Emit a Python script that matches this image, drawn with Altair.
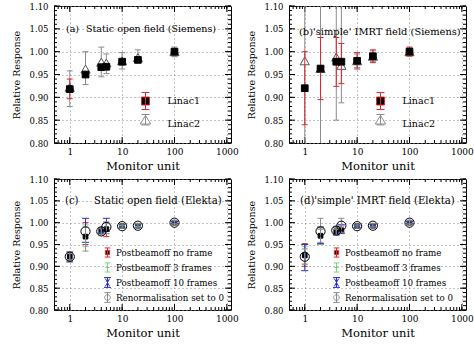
import altair as alt
import pandas as pd

MU = [1, 2, 4, 5, 10, 20, 100]

# ---- panel (a) Static open field (Siemens)
A_L1_Y = [0.918, 0.950, 0.966, 0.967, 0.978, 0.982, 1.000]
A_L1_LO = [0.897, 0.946, 0.962, 0.963, 0.975, 0.979, 0.997]
A_L1_HI = [0.940, 0.954, 0.970, 0.971, 0.981, 0.985, 1.003]
A_L2_Y = [0.922, 0.962, 0.977, 0.975, 0.980, 0.987, 1.000]
A_L2_LO = [0.880, 0.928, 0.945, 0.952, 0.962, 0.978, 0.989]
A_L2_HI = [0.958, 1.000, 1.010, 0.995, 0.998, 1.004, 1.010]

# ---- panel (b) 'simple' IMRT field (Siemens)
B_L1_Y = [0.920, 0.963, 0.978, 0.978, 0.980, 0.990, 1.000]
B_L1_LO = [0.840, 0.895, 0.924, 0.930, 0.962, 0.976, 0.990]
B_L1_HI = [1.000, 1.031, 1.031, 1.018, 0.998, 1.004, 1.010]
B_L2_Y = [0.980, 0.963, 0.988, 0.970, 0.980, 0.990, 1.000]
B_L2_LO = [0.700, 0.700, 0.850, 0.888, 0.965, 0.978, 0.992]
B_L2_HI = [1.250, 1.250, 1.150, 1.150, 0.995, 1.002, 1.008]

# ---- panel (c) Static open field (Elekta)
C_NF_Y = [0.922, 0.968, 0.980, 0.985, 0.992, 0.993, 1.000]
C_NF_LO = [0.913, 0.950, 0.975, 0.968, 0.990, 0.991, 0.998]
C_NF_HI = [0.930, 1.000, 0.985, 1.000, 0.994, 0.995, 1.002]
C_3F_Y = [0.922, 0.975, 0.981, 0.988, 0.992, 0.993, 1.000]
C_3F_LO = [0.914, 0.945, 0.976, 0.975, 0.990, 0.991, 0.998]
C_3F_HI = [0.930, 0.995, 0.986, 1.000, 0.994, 0.995, 1.002]
C_10F_Y = [0.922, 0.985, 0.982, 0.995, 0.992, 0.993, 1.000]
C_10F_LO = [0.910, 0.955, 0.976, 0.980, 0.988, 0.989, 0.997]
C_10F_HI = [0.933, 1.010, 0.988, 1.010, 0.996, 0.997, 1.003]
C_RN_Y = [0.922, 0.980, 0.980, 0.990, 0.992, 0.993, 1.000]
C_RN_LO = [0.912, 0.935, 0.972, 0.975, 0.987, 0.988, 0.995]
C_RN_HI = [0.932, 0.990, 0.988, 1.002, 0.997, 0.998, 1.005]

# ---- panel (d) 'simple' IMRT field (Elekta)
D_NF_Y = [0.925, 0.970, 0.980, 0.982, 0.992, 0.993, 1.000]
D_NF_LO = [0.900, 0.950, 0.975, 0.975, 0.990, 0.991, 0.998]
D_NF_HI = [0.952, 0.985, 0.985, 0.990, 0.994, 0.995, 1.002]
D_3F_Y = [0.922, 0.968, 0.978, 0.985, 0.992, 0.993, 1.000]
D_3F_LO = [0.905, 0.950, 0.972, 0.975, 0.990, 0.991, 0.998]
D_3F_HI = [0.945, 0.985, 0.985, 0.995, 0.994, 0.995, 1.002]
D_10F_Y = [0.920, 0.970, 0.981, 0.985, 0.992, 0.993, 1.000]
D_10F_LO = [0.890, 0.952, 0.972, 0.976, 0.989, 0.990, 0.997]
D_10F_HI = [0.950, 0.990, 0.990, 0.995, 0.995, 0.996, 1.003]
D_RN_Y = [0.922, 0.980, 0.982, 0.993, 0.992, 0.993, 1.000]
D_RN_LO = [0.905, 0.955, 0.972, 0.978, 0.987, 0.988, 0.995]
D_RN_HI = [0.940, 1.010, 0.990, 1.010, 0.997, 0.998, 1.005]

X_LABELS = [1, 10, 100, 1000]
Y_LABELS = [0.80, 0.85, 0.90, 0.95, 1.00, 1.05, 1.10]
X_MINOR = [0.5, 0.6, 0.7, 0.8, 0.9] + [k * 10 ** e for e in (0, 1, 2) for k in range(1, 10)] + [1000]
Y_MINOR = [round(0.80 + 0.01 * i, 2) for i in range(31)]

SERIF = "DejaVu Serif"
W = 177
RED = "#e0262e"
GRAY = "#8c8c8c"
GREEN = "#7ed37e"
BLUE = "#2b2bcf"
CAP = "M-1,0L1,0"

XS = alt.Scale(type="log", domain=[0.5, 1200], nice=False)
YS = alt.Scale(domain=[0.80, 1.10], nice=False, zero=False)
XA = alt.Axis(values=X_LABELS, format="d", title="Monitor unit", grid=True, gridDash=[1, 3],
              gridColor="#8a8a8a", ticks=False, domain=False, labelFlush=False, labelOverlap=False,
              labelPadding=4, titlePadding=4, labelFontSize=9, titleFontSize=11.5)
YA = alt.Axis(values=Y_LABELS, format=".2f", title="Relative Response", grid=True, gridDash=[1, 3],
              gridColor="#8a8a8a", ticks=False, domain=False, labelFlush=False, labelOverlap=False,
              labelPadding=6, titlePadding=8, labelFontSize=8.5, titleFontSize=9.5)


def make_df(series):
    rows = []
    for name, ys, los, his in series:
        for m, y, lo, hi in zip(MU, ys, los, his):
            rows.append({"mu": m, "series": name, "y": y, "lo": lo, "hi": hi})
    return pd.DataFrame(rows)


def tick_layers(H):
    major_x = pd.DataFrame({"t": X_LABELS})
    minor_x = pd.DataFrame({"t": X_MINOR})
    major_y = pd.DataFrame({"t": Y_LABELS})
    minor_y = pd.DataFrame({"t": Y_MINOR})
    out = []
    for dfx, L in ((major_x, 6), (minor_x, 3)):
        X = alt.X("t:Q", scale=XS, axis=XA)
        out.append(alt.Chart(dfx).mark_rule(color="black", strokeWidth=1, clip=True).encode(
            x=X, y=alt.value(H), y2=alt.value(H - L)))
        out.append(alt.Chart(dfx).mark_rule(color="black", strokeWidth=1, clip=True).encode(
            x=X, y=alt.value(0), y2=alt.value(L)))
    for dfy, L in ((major_y, 6), (minor_y, 3)):
        Y = alt.Y("t:Q", scale=YS, axis=YA)
        out.append(alt.Chart(dfy).mark_rule(color="black", strokeWidth=1).encode(
            y=Y, x=alt.value(0), x2=alt.value(L)))
        out.append(alt.Chart(dfy).mark_rule(color="black", strokeWidth=1).encode(
            y=Y, x=alt.value(W), x2=alt.value(W - L)))
    return out


def panel(df, styles, legend_paths, legend_fill, legend_stroke, leg, texts, tfs, H):
    base = alt.Chart(df)
    X = alt.X("mu:Q", scale=XS, axis=XA)
    layers = tick_layers(H)
    names = [s["name"] for s in styles]
    for st in styles:
        sub = base.transform_filter(alt.datum.series == st["name"])
        layers.append(sub.mark_rule(color=st["err"], strokeWidth=1, clip=True).encode(
            x=X, y=alt.Y("lo:Q", scale=YS, axis=YA), y2="hi:Q"))
        for f in ("lo", "hi"):
            layers.append(sub.mark_point(shape=CAP, filled=False, stroke=st["err"], strokeWidth=1,
                                         size=st["cap"], opacity=1, clip=True).encode(
                x=X, y=alt.Y(f + ":Q", scale=YS, axis=YA)))
        if st.get("shape"):
            layers.append(sub.mark_point(shape=st["shape"], filled=st["fill"] != "none",
                                         fill=st["fill"], stroke=st["stroke"], strokeWidth=1,
                                         size=st["size"], opacity=1, clip=True).encode(
                x=X, y=alt.Y("y:Q", scale=YS, axis=YA)))
    L = alt.Legend(title=None, orient="none", legendX=leg["x"], legendY=leg["y"],
                   labelFont=SERIF, labelFontSize=leg["fs"], labelColor="black",
                   symbolSize=leg["size"], symbolStrokeWidth=1, symbolOpacity=1,
                   rowPadding=leg["row"], labelOffset=leg["off"], padding=0, labelLimit=300)
    leg_names = leg.get("order", names)
    layers.append(base.mark_point(opacity=0).encode(
        x=X, y=alt.Y("y:Q", scale=YS, axis=YA),
        shape=alt.Shape("series:N", scale=alt.Scale(domain=leg_names, range=legend_paths), legend=L),
        fill=alt.Fill("series:N", scale=alt.Scale(domain=leg_names, range=legend_fill), legend=L),
        stroke=alt.Stroke("series:N", scale=alt.Scale(domain=leg_names, range=legend_stroke), legend=L)))
    for txt, tx, ty in texts:
        layers.append(alt.Chart(pd.DataFrame({"t": [txt]})).mark_text(
            font=SERIF, fontSize=tfs, align="left", baseline="middle", color="black").encode(
            text="t:N", x=alt.value(tx), y=alt.value(ty)))
    return alt.layer(*layers).properties(width=W, height=H)


SIEM_STYLES = [
    {"name": "Linac2", "err": GRAY, "cap": 36, "shape": "triangle-up", "fill": "white",
     "stroke": "#555555", "size": 85},
    {"name": "Linac1", "err": RED, "cap": 36, "shape": "square", "fill": "black",
     "stroke": "black", "size": 45},
]
SIEM_LEG_PATHS = [
    "M0,-0.9L0,0.9M-0.42,-0.9L0.42,-0.9M-0.42,0.9L0.42,0.9M-0.42,-0.42L0.42,-0.42L0.42,0.42L-0.42,0.42Z",
    "M0,-1.0L0,0.1M-0.42,-1.0L0.42,-1.0M-0.42,0.1L0.42,0.1M0,-0.9L0.55,0.0L-0.55,0.0Z",
]
SIEM_LEG_FILL = ["black", "white"]
SIEM_LEG_STROKE = [RED, GRAY]

ELEK_STYLES = [
    {"name": "Postbeamoff no frame", "err": RED, "cap": 36, "shape": "square", "fill": "black",
     "stroke": "black", "size": 22},
    {"name": "Postbeamoff 3 frames", "err": GREEN, "cap": 36},
    {"name": "Postbeamoff 10 frames", "err": BLUE, "cap": 49},
    {"name": "Renormalisation set to 0", "err": GRAY, "cap": 36, "shape": "circle", "fill": "none",
     "stroke": "black", "size": 85},
]
ELEK_LEG_PATHS = [
    "M0,-0.65L0,0.65M-0.4,-0.65L0.4,-0.65M-0.4,0.65L0.4,0.65M-0.3,-0.3L0.3,-0.3L0.3,0.3L-0.3,0.3Z",
    "M0,-0.65L0,0.65M-0.4,-0.65L0.4,-0.65M-0.4,0.65L0.4,0.65M-0.3,0L0.3,0",
    "M0,-0.7L0,0.7M-0.5,-0.7L0.5,-0.7M-0.5,0.7L0.5,0.7M-0.3,-0.55L0.3,0.55M0.3,-0.55L-0.3,0.55",
    "M0,-0.7L0,0.7M-0.45,-0.7L0.45,-0.7M-0.45,0.7L0.45,0.7M-0.4,0A0.4,0.4 0 1,0 0.4,0A0.4,0.4 0 1,0 -0.4,0Z",
]
ELEK_LEG_FILL = ["black", "transparent", "transparent", "transparent"]
ELEK_LEG_STROKE = [RED, GREEN, BLUE, GRAY]

dfa = make_df([("Linac1", A_L1_Y, A_L1_LO, A_L1_HI), ("Linac2", A_L2_Y, A_L2_LO, A_L2_HI)])
dfb = make_df([("Linac1", B_L1_Y, B_L1_LO, B_L1_HI), ("Linac2", B_L2_Y, B_L2_LO, B_L2_HI)])
dfc = make_df([("Postbeamoff no frame", C_NF_Y, C_NF_LO, C_NF_HI),
               ("Postbeamoff 3 frames", C_3F_Y, C_3F_LO, C_3F_HI),
               ("Postbeamoff 10 frames", C_10F_Y, C_10F_LO, C_10F_HI),
               ("Renormalisation set to 0", C_RN_Y, C_RN_LO, C_RN_HI)])
dfd = make_df([("Postbeamoff no frame", D_NF_Y, D_NF_LO, D_NF_HI),
               ("Postbeamoff 3 frames", D_3F_Y, D_3F_LO, D_3F_HI),
               ("Postbeamoff 10 frames", D_10F_Y, D_10F_LO, D_10F_HI),
               ("Renormalisation set to 0", D_RN_Y, D_RN_LO, D_RN_HI)])

LEG_AB = {"x": 81.5, "y": 85, "fs": 9.5, "size": 361, "row": 0, "off": 12, "order": ["Linac1", "Linac2"]}
LEG_C = {"x": 46, "y": 66, "fs": 8.7, "size": 196, "row": 0, "off": 1}
LEG_D = {"x": 40, "y": 66, "fs": 8.7, "size": 196, "row": 0, "off": 1}

pa = panel(dfa, SIEM_STYLES, SIEM_LEG_PATHS, SIEM_LEG_FILL, SIEM_LEG_STROKE, LEG_AB,
           [("(a)", 12, 23), ("Static open field (Siemens)", 32, 23)], 9.5, 137)
pb = panel(dfb, SIEM_STYLES, SIEM_LEG_PATHS, SIEM_LEG_FILL, SIEM_LEG_STROKE, LEG_AB,
           [("(b)'simple' IMRT field (Siemens)", 10, 26)], 9.9, 137)
pc = panel(dfc, ELEK_STYLES, ELEK_LEG_PATHS, ELEK_LEG_FILL, ELEK_LEG_STROKE, LEG_C,
           [("(c)", 11, 22), ("Static open field (Elekta)", 40, 22)], 10.1, 131)
pd_ = panel(dfd, ELEK_STYLES, ELEK_LEG_PATHS, ELEK_LEG_FILL, ELEK_LEG_STROKE, LEG_D,
            [("(d)'simple' IMRT field (Elekta)", 11, 22)], 10.1, 131)

IND = dict(shape="independent", fill="independent", stroke="independent",
           x="independent", y="independent")

row1 = alt.hconcat(pa, pb, spacing=6).resolve_scale(**IND)
row2 = alt.hconcat(pc, pd_, spacing=6).resolve_scale(**IND)

chart = alt.vconcat(row1, row2, spacing=2).resolve_scale(**IND).properties(
    padding={"left": 10, "top": 1, "right": 0, "bottom": 0}
).configure(
    background="white",
).configure_view(
    stroke="black", strokeWidth=1
).configure_axis(
    labelFont=SERIF, labelColor="black",
    titleFont=SERIF, titleFontWeight="normal", titleColor="black",
)

chart.save("out.html", embed_options={"renderer": "svg", "actions": False})
